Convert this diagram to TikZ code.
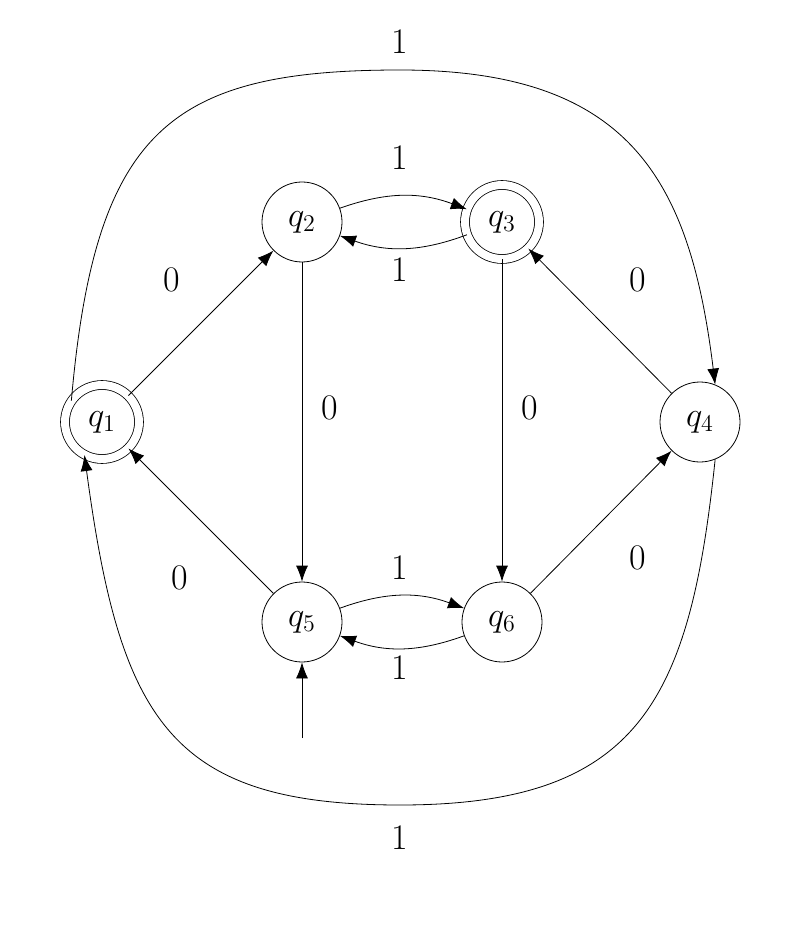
\documentclass[tikz,border=0pt]{standalone}
\usetikzlibrary{arrows.meta}
\begin{document}
\begin{tikzpicture}[x=0.5pt,y=-0.5pt,
  st/.style={circle,draw,minimum size=40pt,inner sep=0pt,font=\fontsize{18}{20}\selectfont},
  acc/.style={st,double,double distance=4pt},
  e/.style={-{Latex[length=8pt,width=6pt]},thin},
  lab/.style={font=\fontsize{18}{20}\selectfont}]
\useasboundingbox (0,0) rectangle (812,930);
\node[acc,minimum size=37pt] (q1) at (102,422) {$q_1$};
\node[st] (q2) at (302,222) {$q_2$};
\node[acc,minimum size=37pt] (q3) at (502,222) {$q_3$};
\node[st] (q4) at (700,422) {$q_4$};
\node[st] (q5) at (302,622) {$q_5$};
\node[st] (q6) at (502,622) {$q_6$};
\coordinate (s) at (302,738);
\draw[e] (q1) -- (q2);
\draw[e] (q2) to[bend left=20] (q3);
\draw[e] (q3) to[bend left=20] (q2);
\draw[e] (q2) -- (q5);
\draw[e] (q3) -- (q6);
\draw[e] (q4) -- (q3);
\draw[e] (q6) -- (q4);
\draw[e] (q5) -- (q1);
\draw[e] (q5) to[bend left=20] (q6);
\draw[e] (q6) to[bend left=20] (q5);
\draw[e] (s) -- (q5);
\draw[e] (q1.145) .. controls (95,130) and (170,70) .. (400,70) .. controls (630,70) and (690,180) .. (q4.68);
\draw[e] (q4.-68) .. controls (690,700) and (640,805) .. (400,805) .. controls (170,805) and (120,720) .. (q1.-118);
\node[lab] (l1) at (172,280) {0};
\node[lab] (l2) at (400,158) {1};
\node[lab] (l3) at (400,270) {1};
\node[lab] (l4) at (330,408) {0};
\node[lab] (l5) at (530,408) {0};
\node[lab] (l6) at (638,280) {0};
\node[lab] (l7) at (638,558) {0};
\node[lab] (l8) at (180,578) {0};
\node[lab] (l9) at (400,568) {1};
\node[lab] (l10) at (400,668) {1};
\node[lab] (l11) at (400,42) {1};
\node[lab] (l12) at (400,838) {1};
\end{tikzpicture}
\end{document}
